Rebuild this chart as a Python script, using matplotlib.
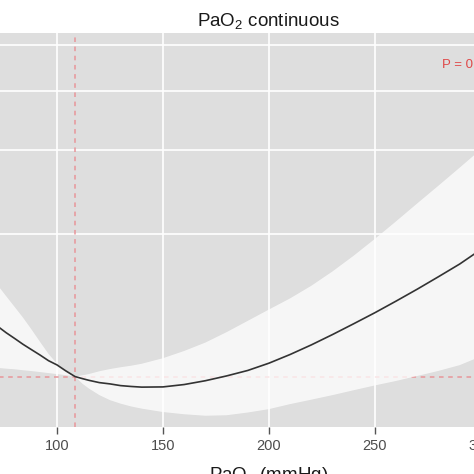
#!/usr/bin/env python3
"""Restricted cubic spline of PaO2 vs hazard ratio (cropped ggplot-style panel)."""
import matplotlib
matplotlib.use("Agg")
import matplotlib.pyplot as plt
from matplotlib.ticker import FixedLocator, NullLocator, NullFormatter

PANEL, RIBBON, LINE, REF, PTXT, TICK = "#dedede", "white", "#333333", "#e8959a", "#e04848", "#4d4d4d"
plt.rcParams.update({"font.family": "sans-serif", "font.sans-serif": ["Liberation Sans", "DejaVu Sans"],
    "mathtext.fontset": "custom", "mathtext.rm": "Liberation Sans", "mathtext.it": "Liberation Sans:italic"})

# spline fit (PaO2, mmHg -> hazard ratio)
PAO2 = [73, 76, 80, 84, 88, 92, 96, 100, 104, 108.5, 112, 115, 120, 125, 130, 135, 140, 150, 160, 170,
        180, 190, 200, 210, 220, 230, 240, 250, 260, 270, 280, 290, 297]
HR = [1.266, 1.237, 1.203, 1.169, 1.139, 1.110, 1.080, 1.058, 1.029, 1.0, 0.990, 0.982, 0.971, 0.965, 0.957,
      0.953, 0.950, 0.951, 0.962, 0.980, 1.003, 1.030, 1.067, 1.113, 1.166, 1.226, 1.292, 1.363, 1.442,
      1.528, 1.623, 1.726, 1.813]
HR_UP = [1.537, 1.477, 1.402, 1.330, 1.256, 1.183, 1.116, 1.064, 1.025, 1.0, 1.006, 1.012, 1.026, 1.037,
         1.046, 1.054, 1.064, 1.093, 1.132, 1.179, 1.240, 1.310, 1.384, 1.461, 1.553, 1.665, 1.797, 1.950,
         2.123, 2.316, 2.524, 2.754, 2.930]
HR_LO = [1.042, 1.039, 1.036, 1.031, 1.027, 1.022, 1.017, 1.012, 1.007, 1.0, 0.966, 0.944, 0.914, 0.892,
         0.877, 0.865, 0.856, 0.842, 0.833, 0.827, 0.829, 0.840, 0.854, 0.875, 0.894, 0.914, 0.936, 0.958,
         0.979, 1.003, 1.028, 1.057, 1.089]
REF_PAO2 = 108.5
X_TICKS = [100, 150, 200, 250, 300]
Y_GRID = [2, 3, 4, 5]

W = H = 474
fig = plt.figure(figsize=(W / 100, H / 100), dpi=100)
# panel runs past both sides of the crop
left_px, right_px, top_px, bot_px = -100, 574, 33, 427
ax = fig.add_axes([left_px / W, 1 - bot_px / H, (right_px - left_px) / W, (bot_px - top_px) / H])
ax.set_facecolor(PANEL)
ax.set_yscale("log")
ax.set_xlim(25.94, 343.9)
ax.set_ylim(0.783, 5.29)
for s in ax.spines.values():
    s.set_visible(False)

ax.xaxis.set_major_locator(FixedLocator(X_TICKS))
ax.set_xticklabels([str(t) for t in X_TICKS])
ax.yaxis.set_major_locator(FixedLocator(Y_GRID))
ax.yaxis.set_minor_locator(NullLocator()); ax.yaxis.set_minor_formatter(NullFormatter())
ax.set_yticklabels([])
ax.tick_params(axis="x", length=5, width=1, color="#555555", labelsize=10.5, labelcolor=TICK, pad=4)
ax.tick_params(axis="y", length=0)
ax.grid(True, color="white", linewidth=1.2, zorder=0)
ax.set_axisbelow(True)

ax.axhline(1, color=REF, lw=1.1, ls=(0, (3, 3)), zorder=1)
ax.axvline(REF_PAO2, color=REF, lw=1.1, ls=(0, (3, 3)), zorder=1)
ax.fill_between(PAO2, HR_LO, HR_UP, color=RIBBON, alpha=0.75, lw=0, zorder=2)
ax.plot(PAO2, HR, color=LINE, lw=1.2, zorder=3)

fig.text(268 / W, 1 - 21 / H, "PaO$_\\mathregular{2}$ continuous", ha="center", va="center", fontsize=13.5, color="#1a1a1a")
fig.text(442 / W, 1 - 65 / H, "P = 0.002", ha="left", va="center", fontsize=9.5, color=PTXT)
fig.text(269 / W, 1 - 465 / H, "PaO$_\\mathregular{2}$ (mmHg)", ha="center", va="top", fontsize=13.5, color="#1a1a1a")

fig.savefig("out.png", dpi=100)
